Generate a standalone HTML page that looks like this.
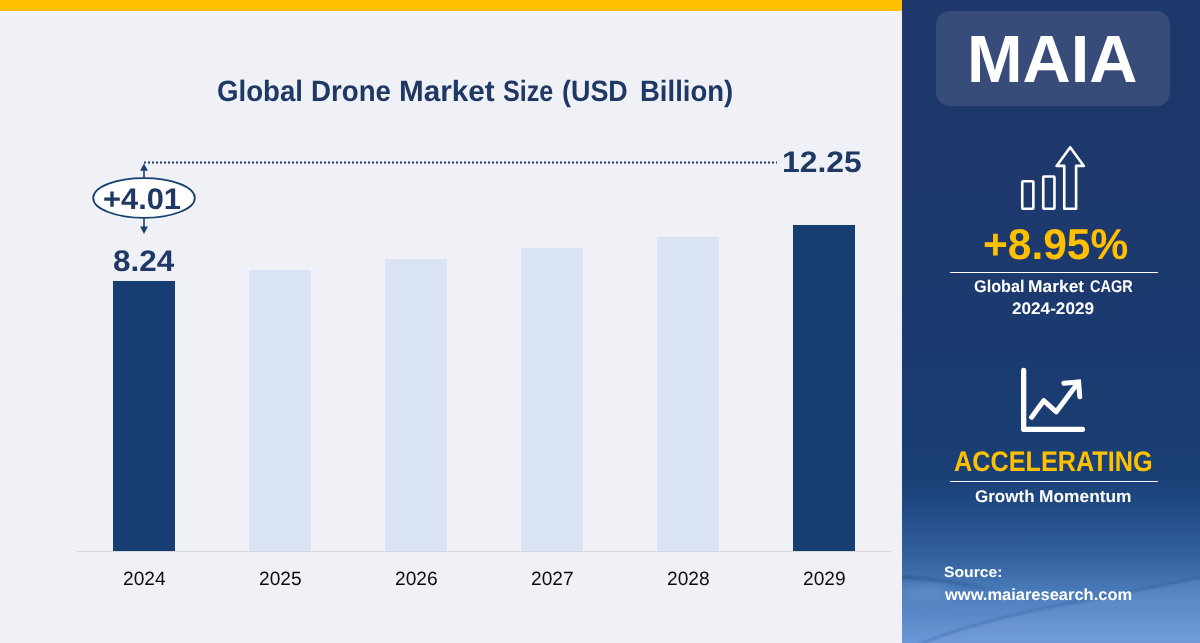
<!DOCTYPE html>
<html lang="en"><head><meta charset="utf-8"><title>Global Drone Market Size</title>
<style>
html,body{margin:0;padding:0}
body{width:1200px;height:643px;position:relative;overflow:hidden;background:#F0F1F6;font-family:"Liberation Sans",sans-serif}
.t{position:absolute;line-height:1;white-space:pre;transform-origin:0 0;text-rendering:geometricPrecision}
.topbar{position:absolute;left:0;top:0;width:902px;height:11px;background:#FFC000}
.bar{position:absolute;width:62px}
.bar.d{background:#163E73}
.bar.l{background:#DAE3F3}
.axis{position:absolute;left:77px;top:550.5px;width:814px;height:1px;background:#D5D6DA}
.side{position:absolute;left:902px;top:0;width:298px;height:643px;overflow:hidden;
 background:linear-gradient(180deg,#1F386B 0%,#1F386B 22%,#1B3A6F 50%,#193D72 68%,#1B4178 75%,#25508B 81%,#34649F 87%,#4F80BF 93%,#6B98D8 100%)}
.logo{position:absolute;left:936px;top:11px;width:234px;height:95px;border-radius:14px;background:#374C78}
.rule{position:absolute;left:950px;width:207.5px;height:1.3px;background:#fff}
svg{position:absolute;left:0;top:0;overflow:visible}
</style></head>
<body>
<div class="topbar"></div>
<div class="bar d" style="left:113px;top:281px;height:270px"></div>
<div class="bar l" style="left:249px;top:270px;height:281px"></div>
<div class="bar l" style="left:385px;top:259px;height:292px"></div>
<div class="bar l" style="left:521px;top:248px;height:303px"></div>
<div class="bar l" style="left:657px;top:237px;height:314px"></div>
<div class="bar d" style="left:793px;top:225px;height:326px"></div>
<div class="axis"></div>
<div class="side">
 <svg width="298" height="643" viewBox="902 0 298 643">
  <defs>
   <linearGradient id="fadeR" x1="0" x2="1" y1="0" y2="0"><stop offset="0" stop-color="#13335F" stop-opacity=".42"/><stop offset=".75" stop-color="#13335F" stop-opacity=".15"/><stop offset="1" stop-color="#13335F" stop-opacity="0"/></linearGradient>
   <filter id="b1" x="-10%" y="-100%" width="120%" height="300%"><feGaussianBlur stdDeviation="1.3"/></filter>
   <filter id="b6" x="-30%" y="-100%" width="160%" height="300%"><feGaussianBlur stdDeviation="6"/></filter>
  </defs>
  <!-- big lower sheet: lighter below a curve rising to the right -->
  <path d="M918 645 C960 628 1010 615 1052 607 S1150 588 1205 577 L1205 650 Z" fill="#8DB3EA" fill-opacity=".16"/>
  <path d="M918 645 C960 628 1010 615 1052 607 S1150 588 1205 577" fill="none" stroke="#1C477F" stroke-opacity=".32" stroke-width="2.2" filter="url(#b1)"/>
  <!-- short streak from left edge -->
  <path d="M898 577 C930 578 960 582 1005 593" fill="none" stroke="url(#fadeR)" stroke-width="3.2" filter="url(#b1)"/>
  <ellipse cx="925" cy="592" rx="26" ry="7" fill="#86ACE2" fill-opacity=".35" filter="url(#b6)"/>
 </svg>
</div>
<div class="logo"></div>
<div class="rule" style="top:272px"></div>
<div class="rule" style="top:480.8px"></div>

<svg width="1200" height="643" viewBox="0 0 1200 643">
 <!-- dotted leader -->
 <line x1="144" y1="162.6" x2="777" y2="162.6" stroke="#1F3864" stroke-width="2" stroke-dasharray="2 2"/>
 <!-- callout arrows + ellipse -->
 <g stroke="#17406F" fill="#17406F">
  <line x1="144" y1="169" x2="144" y2="178" stroke-width="1.6"/>
  <path d="M144 163.6 L147.9 170.8 L140.1 170.8 Z" stroke="none"/>
  <line x1="144" y1="218" x2="144" y2="227" stroke-width="1.6"/>
  <path d="M144 233.9 L147.9 226.4 L140.1 226.4 Z" stroke="none"/>
  <ellipse cx="144" cy="197.95" rx="50.8" ry="19.85" fill="#fff" stroke-width="1.8"/>
 </g>
 <!-- icon 1: bars + up arrow -->
 <g fill="none" stroke="#fff" stroke-width="2.6" stroke-linejoin="round">
  <rect x="1022.25" y="181.25" width="11.1" height="27.5" rx="0.8"/>
  <rect x="1043.25" y="176.5" width="11.2" height="32.25" rx="0.8"/>
  <path d="M1064.25 208.75 V165.9 H1056.6 L1070.2 147.3 L1083.8 165.9 H1076.1 V208.75 Z"/>
 </g>
 <!-- icon 2: chart axis + trend arrow -->
 <g fill="none" stroke="#fff" stroke-linecap="round" stroke-linejoin="round">
  <path d="M1023.65 370.5 V429.3 H1082.5" stroke-width="5.3"/>
  <path d="M1031.6 417.2 L1043.7 400.6 L1056.3 411.8 L1078.2 382.4" stroke-width="5"/>
  <path d="M1063.9 383.3 L1078.6 382 L1079.8 396.8" stroke-width="5" stroke-linejoin="miter"/>
 </g>
</svg>
<div class="t" style="left:217.00px;top:77.00px;font-size:29.5px;font-weight:700;color:#1F3864;transform:scaleX(0.9364)">Global</div>
<div class="t" style="left:311.00px;top:77.00px;font-size:29.5px;font-weight:700;color:#1F3864;transform:scaleX(0.9379)">Drone</div>
<div class="t" style="left:399.00px;top:77.00px;font-size:29.5px;font-weight:700;color:#1F3864;transform:scaleX(1.0068)">Market</div>
<div class="t" style="left:503.00px;top:77.00px;font-size:29.5px;font-weight:700;color:#1F3864;transform:scaleX(0.8519)">Size</div>
<div class="t" style="left:562.00px;top:77.00px;font-size:29.5px;font-weight:700;color:#1F3864;transform:scaleX(0.9125)">(USD</div>
<div class="t" style="left:640.00px;top:77.00px;font-size:29.5px;font-weight:700;color:#1F3864;transform:scaleX(0.9328)">Billion)</div>
<div class="t" style="left:974.00px;top:278.00px;font-size:17.0px;font-weight:700;color:#fff;transform:scaleX(0.9555)">Global</div>
<div class="t" style="left:1028.00px;top:278.00px;font-size:17.0px;font-weight:700;color:#fff;transform:scaleX(1.0243)">Market</div>
<div class="t" style="left:1090.00px;top:278.00px;font-size:17.0px;font-weight:700;color:#fff;transform:scaleX(0.8511)">CAGR</div>
<div class="t" style="left:975.00px;top:488.00px;font-size:17.0px;font-weight:700;color:#fff;transform:scaleX(1.0017)">Growth</div>
<div class="t" style="left:1039.00px;top:488.00px;font-size:17.0px;font-weight:700;color:#fff;transform:scaleX(1.0209)">Momentum</div>
<div class="t" style="left:103.00px;top:185.00px;font-size:29.75px;font-weight:700;color:#1F3864;transform:scaleX(1.036)">+4.01</div>
<div class="t" style="left:113.00px;top:247.00px;font-size:29.75px;font-weight:700;color:#1F3864;transform:scaleX(1.058)">8.24</div>
<div class="t" style="left:782.00px;top:148.00px;font-size:29.75px;font-weight:700;color:#1F3864;transform:scaleX(1.071)">12.25</div>
<div class="t" style="left:967.00px;top:27.00px;font-size:66.91px;font-weight:700;color:#fff;transform:scaleX(0.9969)">MAIA</div>
<div class="t" style="left:983.00px;top:224.00px;font-size:43.15px;font-weight:700;color:#FFC000;transform:scaleX(0.9843)">+8.95%</div>
<div class="t" style="left:1012.00px;top:301.00px;font-size:16.68px;font-weight:700;color:#fff;transform:scaleX(1.0283)">2024-2029</div>
<div class="t" style="left:954.00px;top:447.00px;font-size:28.28px;font-weight:700;color:#FFC000;transform:scaleX(0.8929)">ACCELERATING</div>
<div class="t" style="left:944.00px;top:566.00px;font-size:14.89px;font-weight:700;color:#fff;transform:scaleX(1.0574)">Source:</div>
<div class="t" style="left:945.00px;top:587.00px;font-size:16.25px;font-weight:700;color:#fff;transform:scaleX(1.0138)">www.maiaresearch.com</div>
<div class="t" style="left:123.00px;top:570.00px;font-size:19.25px;font-weight:400;color:#0d0d0d;transform:scaleX(0.994)">2024</div>
<div class="t" style="left:259.00px;top:570.00px;font-size:19.25px;font-weight:400;color:#0d0d0d;transform:scaleX(0.994)">2025</div>
<div class="t" style="left:395.00px;top:570.00px;font-size:19.25px;font-weight:400;color:#0d0d0d;transform:scaleX(0.994)">2026</div>
<div class="t" style="left:531.00px;top:570.00px;font-size:19.25px;font-weight:400;color:#0d0d0d;transform:scaleX(0.994)">2027</div>
<div class="t" style="left:667.00px;top:570.00px;font-size:19.25px;font-weight:400;color:#0d0d0d;transform:scaleX(0.994)">2028</div>
<div class="t" style="left:803.00px;top:570.00px;font-size:19.25px;font-weight:400;color:#0d0d0d;transform:scaleX(0.994)">2029</div>
</body></html>
